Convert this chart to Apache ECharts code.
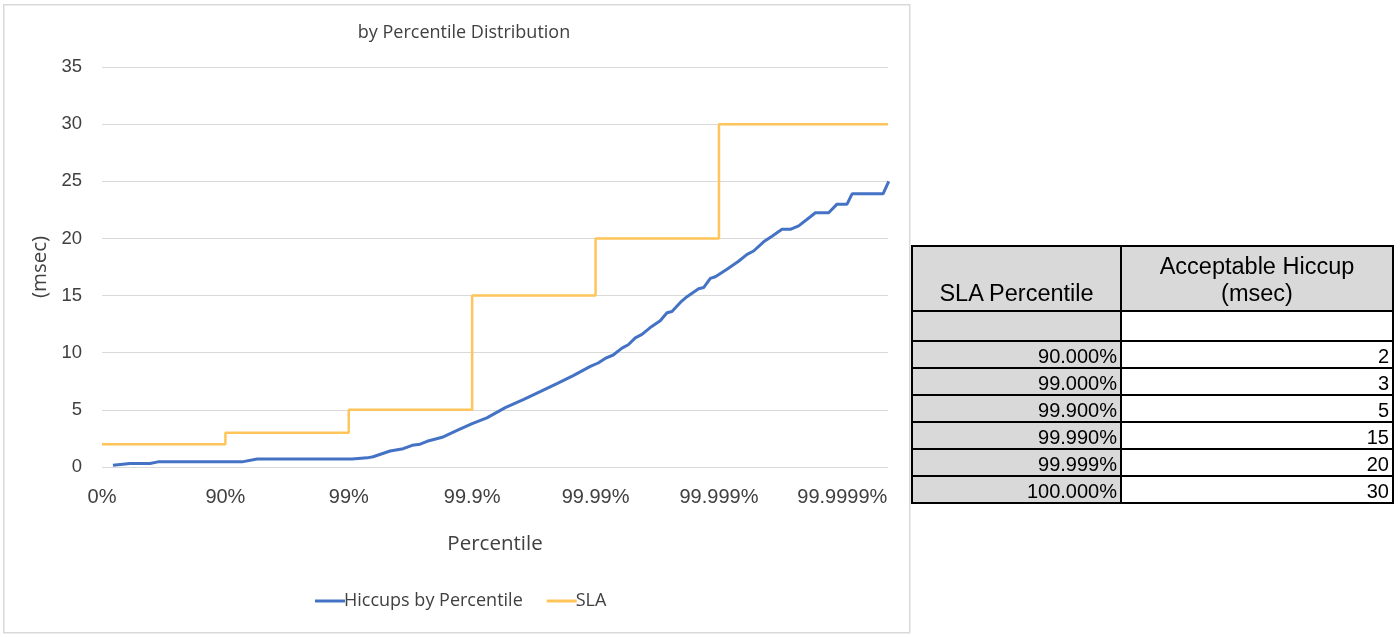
<!DOCTYPE html>
<html>
<head>
<meta charset="utf-8">
<script src="https://cdn.jsdelivr.net/npm/echarts@6/dist/echarts.min.js"></script>
<style>
  html, body { margin: 0; padding: 0; background: #fff; }
  #chart { position: absolute; left: 0; top: 0; width: 1400px; height: 637px; }
  #tbl { position: absolute; left: 911px; top: 245px; border-collapse: collapse;
         font-family: "Liberation Sans", Arial, sans-serif; color: #000; }
  #tbl td { border: 2px solid #000; padding: 0 3px; box-sizing: border-box; }
  #tbl td.l { background: #d9d9d9; width: 209px; }
  #tbl td.r { background: #fff; width: 272px; }
  #tbl tr.h td { height: 65px; font-size: 23.5px; text-align: center; vertical-align: bottom; line-height: 27px; padding-bottom: 3px; }
  #tbl tr.h td.r { background: #d9d9d9; }
  #tbl tr.b td { height: 30px; }
  #tbl tr.d td { height: 27px; font-size: 20px; text-align: right; vertical-align: bottom; line-height: 22px; }
</style>
</head>
<body>
<div id="chart"></div>
<table id="tbl"></table>
<script>
// x positions are in "nines": 0 -> 0%, 1 -> 90%, 2 -> 99%, 3 -> 99.9%, ...
const xTickLabels = ['0%', '90%', '99%', '99.9%', '99.99%', '99.999%', '99.9999%'];
const xMax = 6.37;

const hiccupX = [0.089, 0.227, 0.389, 0.454, 1.135, 1.257, 2.027, 2.149, 2.197, 2.335, 2.441, 2.514, 2.578, 2.635, 2.757, 2.878, 3.0, 3.119, 3.268, 3.414, 3.551, 3.687, 3.819, 3.958, 4.021, 4.078, 4.143, 4.214, 4.265, 4.322, 4.376, 4.443, 4.524, 4.579, 4.619, 4.687, 4.741, 4.835, 4.876, 4.93, 4.971, 5.065, 5.159, 5.228, 5.281, 5.362, 5.43, 5.511, 5.579, 5.646, 5.741, 5.781, 5.889, 5.957, 6.038, 6.079, 6.33, 6.376];
const hiccupY = [0.15, 0.3, 0.3, 0.45, 0.45, 0.7, 0.7, 0.8, 0.9, 1.4, 1.6, 1.9, 2.0, 2.25, 2.6, 3.2, 3.8, 4.3, 5.2, 5.9, 6.6, 7.3, 8.0, 8.8, 9.1, 9.5, 9.8, 10.4, 10.7, 11.3, 11.6, 12.2, 12.8, 13.5, 13.6, 14.4, 14.9, 15.6, 15.7, 16.5, 16.65, 17.3, 18.0, 18.6, 18.9, 19.7, 20.2, 20.8, 20.8, 21.1, 21.9, 22.25, 22.25, 23.0, 23.0, 23.9, 23.9, 25.0];

const slaX = [0, 1, 2, 3, 4, 5, 6.37];
const slaY = [2, 2, 3, 5, 15, 20, 30];

const tableHeader = ['SLA Percentile', 'Acceptable Hiccup<br>(msec)'];
const tablePercentiles = ['90.000%', '99.000%', '99.900%', '99.990%', '99.999%', '100.000%'];
const tableHiccups = [2, 3, 5, 15, 20, 30];

// build table
const tbl = document.getElementById('tbl');
let html = '<tr class="h"><td class="l">' + tableHeader[0] + '</td><td class="r">' + tableHeader[1] + '</td></tr>';
html += '<tr class="b"><td class="l"></td><td class="r"></td></tr>';
for (let i = 0; i < tablePercentiles.length; i++) {
  html += '<tr class="d"><td class="l">' + tablePercentiles[i] + '</td><td class="r">' + tableHiccups[i] + '</td></tr>';
}
tbl.innerHTML = html;

const chart = echarts.init(document.getElementById('chart'), null, { renderer: 'canvas' });
const txt = '#404040';
const option = {
  animation: false,
  backgroundColor: '#fff',
  graphic: [{
    type: 'rect', left: 3, top: 4, z: -10,
    shape: { width: 906, height: 628 },
    style: { fill: '#fff', stroke: '#d9d9d9', lineWidth: 1.5 }
  }],
  title: {
    text: 'by Percentile Distribution',
    left: 459, top: 19, textAlign: 'center',
    textStyle: { fontFamily: 'Open Sans', fontWeight: 'normal', fontSize: 18, color: txt }
  },
  legend: {
    left: 310, top: 587,
    itemWidth: 30, itemHeight: 3, itemGap: 24,
    icon: 'rect',
    textStyle: { fontFamily: 'Open Sans', fontSize: 18, color: txt, padding: [0, 0, 0, -6] },
    data: ['Hiccups by Percentile', 'SLA']
  },
  grid: { left: 102, width: 786, top: 67, height: 400, containLabel: false },
  xAxis: {
    type: 'value', min: 0, max: xMax, interval: 1,
    name: 'Percentile', nameLocation: 'middle', nameGap: 67,
    nameTextStyle: { fontFamily: 'Open Sans', fontSize: 20.5, color: txt },
    axisLine: { show: false }, axisTick: { show: false }, splitLine: { show: false },
    axisLabel: {
      margin: 20, fontFamily: 'Liberation Sans', fontSize: 20, color: txt,
      showMaxLabel: false,
      formatter: v => (Number.isInteger(v) && xTickLabels[v] !== undefined) ? xTickLabels[v] : ''
    }
  },
  yAxis: {
    type: 'value', min: 0, max: 35, interval: 5,
    name: '(msec)', nameLocation: 'middle', nameGap: 50, nameRotate: 90,
    nameTextStyle: { fontFamily: 'Open Sans', fontSize: 20.5, color: txt },
    axisLine: { show: false }, axisTick: { show: false },
    splitLine: { lineStyle: { color: '#d9d9d9', width: 1 } },
    axisLabel: { margin: 20, fontFamily: 'Liberation Sans', fontSize: 18.5, color: txt }
  },
  series: [
    {
      name: 'Hiccups by Percentile', type: 'line', showSymbol: false, symbol: 'none',
      color: '#4472C4', lineStyle: { width: 3, color: '#4472C4' },
      data: hiccupX.map((x, i) => [x, hiccupY[i]])
    },
    {
      name: 'SLA', type: 'line', step: 'start', showSymbol: false, symbol: 'none',
      color: '#FFC45A', lineStyle: { width: 2.5, color: '#FFC45A' },
      data: slaX.map((x, i) => [x, slaY[i]])
    }
  ]
};
chart.setOption(option);
</script>
</body>
</html>
